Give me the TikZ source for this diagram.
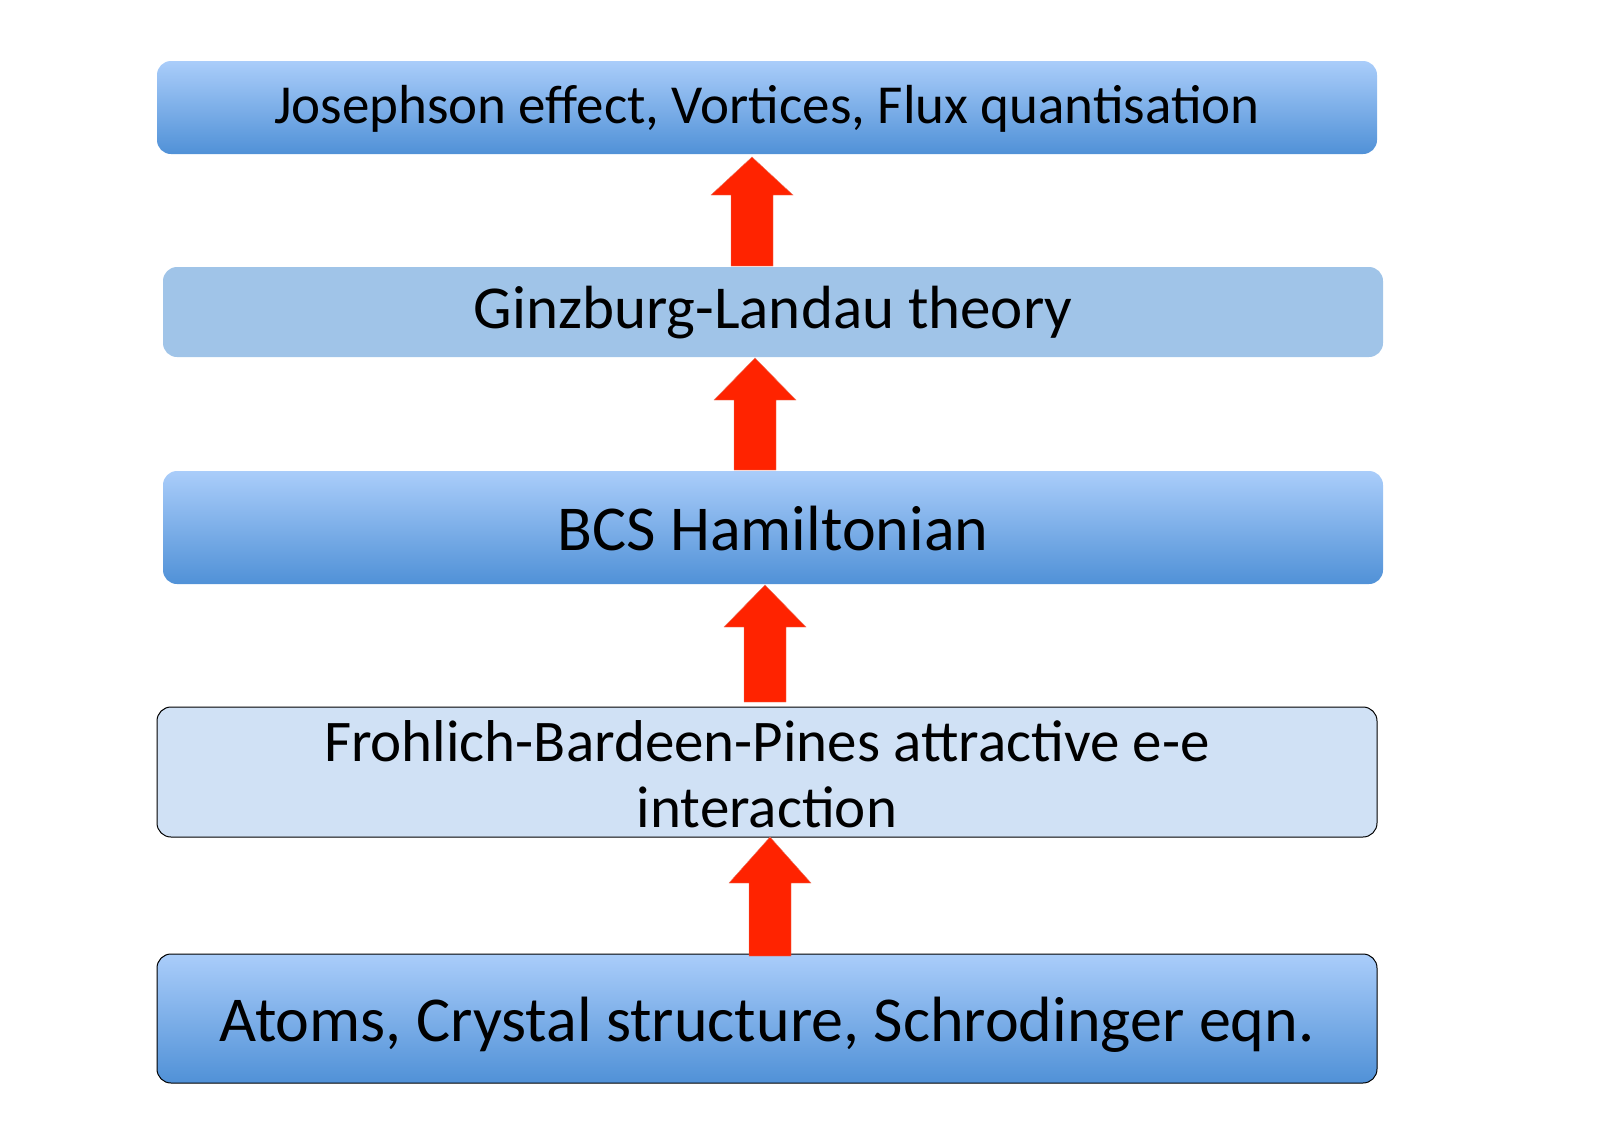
\documentclass[tikz,border=0pt]{standalone}
\usepackage{fontspec}
\setmainfont{Carlito}
\begin{document}
\begin{tikzpicture}[x=1pt,y=-1pt,
 gbox/.style={top color={rgb,255:red,170;green,205;blue,250}, bottom color={rgb,255:red,80;green,145;blue,215}, rounded corners=14pt},
 arr/.style={fill={rgb,255:red,255;green,35;blue,0}, draw={rgb,255:red,230;green,120;blue,100}, line width=0.4pt}]
\useasboundingbox (0,0) rectangle (1600,1130);
\path[gbox] (157,61) rectangle (1377,154);
\node[font=\fontsize{55}{60}\selectfont] (t1) at (767,109) {Josephson effect, Vortices, Flux quantisation};
\path[fill={rgb,255:red,160;green,196;blue,232},rounded corners=14pt] (163,267) rectangle (1383,357);
\node[font=\fontsize{61}{66}\selectfont] (t2) at (773,313) {Ginzburg-Landau theory};
\path[gbox] (163,471) rectangle (1383,584);
\node[font=\fontsize{64}{70}\selectfont] (t3) at (773,529) {BCS Hamiltonian};
\path[fill={rgb,255:red,208;green,225;blue,245},draw=black,line width=1pt,rounded corners=14pt] (157,707) rectangle (1377,837);
\node[align=center,font=\fontsize{59}{66}\selectfont] (t4) at (767,774) {Frohlich-Bardeen-Pines attractive e-e\\interaction};
\path[gbox,draw=black,line width=1pt] (157,954) rectangle (1377,1083);
\node[font=\fontsize{64}{70}\selectfont] (t5) at (767,1025) {Atoms, Crystal structure, Schrodinger eqn.};
\foreach \cx/\tip/\hb/\bot in {752/157/195/266, 755/358/400/470, 765/585/627/702, 770/837/883/956}{
  \path[arr] (\cx-21,\bot) -- (\cx-21,\hb) -- (\cx-41,\hb) -- (\cx,\tip) -- (\cx+41,\hb) -- (\cx+21,\hb) -- (\cx+21,\bot) -- cycle;
}
\end{tikzpicture}
\end{document}
